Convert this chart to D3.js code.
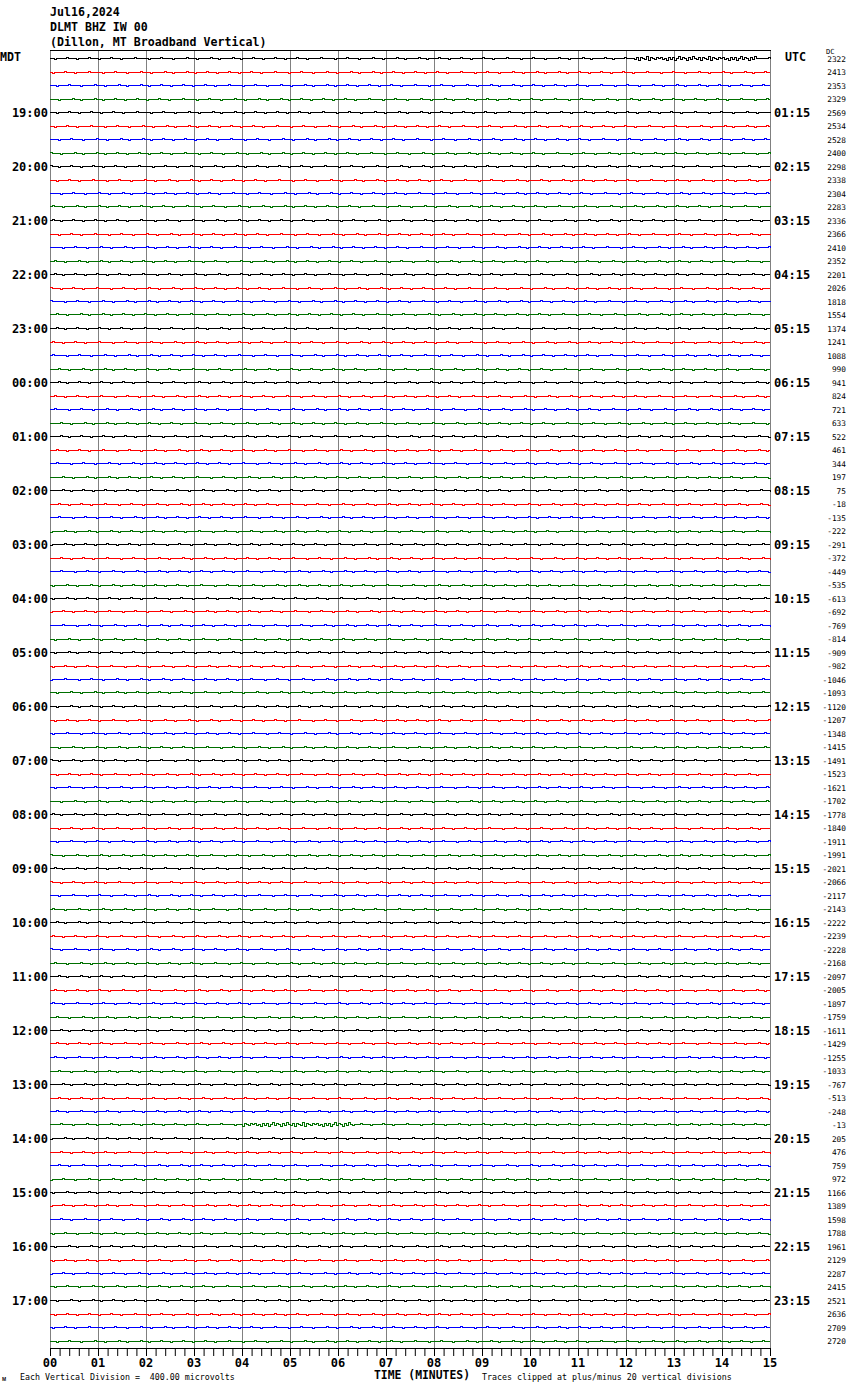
<!DOCTYPE html>
<html><head><meta charset="utf-8">
<script src="https://cdn.jsdelivr.net/npm/d3@7"></script>
<style>
html,body{margin:0;padding:0;background:#fff;}
svg{display:block;}
text{font-family:"DejaVu Sans Mono","Liberation Mono",monospace;white-space:pre;}
</style></head>
<body>
<svg id="chart" width="850" height="1390"></svg>
<script>
// ---------- data ----------
const headerLines = ["Jul16,2024", "DLMT BHZ IW 00", "(Dillon, MT Broadband Vertical)"];
const leftHours = ["19:00","20:00","21:00","22:00","23:00","00:00","01:00","02:00","03:00","04:00","05:00","06:00",
  "07:00","08:00","09:00","10:00","11:00","12:00","13:00","14:00","15:00","16:00","17:00"];
const rightHours = ["01:15","02:15","03:15","04:15","05:15","06:15","07:15","08:15","09:15","10:15","11:15","12:15",
  "13:15","14:15","15:15","16:15","17:15","18:15","19:15","20:15","21:15","22:15","23:15"];
const dcOffsets = [2322,2413,2353,2329,2569,2534,2528,2400,2298,2338,2304,2283,2336,2366,2410,2352,
  2201,2026,1818,1554,1374,1241,1088,990,941,824,721,633,522,461,344,197,
  75,-18,-135,-222,-291,-372,-449,-535,-613,-692,-769,-814,-909,-982,-1046,-1093,
  -1120,-1207,-1348,-1415,-1491,-1523,-1621,-1702,-1778,-1840,-1911,-1991,-2021,-2066,-2117,-2143,
  -2222,-2239,-2228,-2168,-2097,-2005,-1897,-1759,-1611,-1429,-1255,-1033,-767,-513,-248,-13,
  205,476,759,972,1166,1389,1598,1788,1961,2129,2287,2415,2521,2636,2709,2720];
const traceColors = ["#000000","#ff0000","#0000ff","#007000"];
const minuteTicks = ["00","01","02","03","04","05","06","07","08","09","10","11","12","13","14","15"];
// hand-typed background wiggle (pixels), reused along each trace: mostly flat, sparse 1px spikes
const wiggle = [0,0,1,0,0,0,0,0,-1,0,0,0,0,1,0,0,0,0,0,-1,0,0,0,0,1,0,0,0,0,0,
  -1,0,0,0,0,1,0,0,0,0,0,0,-1,0,0,0,0,0,0,1,0,0,0,0,0,-1,0,0,0,0,
  0,1,0,0,0,0,0,0,-1,0,0,0,0,1,0,0,0,0,0,0,-1,0,0,0,1,0,0,0,0,0,0,-1,0];
// hand-typed denser noise used inside bursts
const burstNoise = [1,-1,2,0,-2,1,-1,0,2,-1,1,-2,0,1,-1,2,-1,0,1,-2,2,-1,0,1,-1,0,-1,1,0,2,-1];
// bursts of higher activity: [trace index, start minute, end minute]
const bursts = [[79, 4.0, 6.3],[0, 12.1, 14.7]];
const bottomLeftNote = "Each Vertical Division =  400.00 microvolts";
const bottomRightNote = "Traces clipped at plus/minus 20 vertical divisions";
const axisTitle = "TIME (MINUTES)";

// ---------- layout ----------
const svg = d3.select("#chart");
const x = d3.scaleLinear().domain([0,15]).range([50,770]);
const y = d3.scaleLinear().domain([0,96]).range([58, 58+96*13.5]);
const plotTop = 50, plotBottom = 1348;

// header
svg.selectAll("text.hdr").data(headerLines).join("text")
  .attr("x",50).attr("y",(d,i)=>16+i*15)
  .attr("font-size","11.6px").attr("font-weight","bold").text(d=>d);

// vertical minute grid
svg.append("g").selectAll("line").data(d3.range(0,16)).join("line")
  .attr("x1",d=>Math.round(x(d))+0.5).attr("x2",d=>Math.round(x(d))+0.5)
  .attr("y1",plotTop).attr("y2",plotBottom)
  .attr("stroke","#808080").attr("stroke-width",1);
// top border
svg.append("line").attr("x1",50).attr("x2",771).attr("y1",50.5).attr("y2",50.5)
  .attr("stroke","#000").attr("stroke-width",1);

// traces
const step = 2;
const nPts = Math.round((x.range()[1]-x.range()[0])/step);
const traceG = svg.append("g").attr("shape-rendering","crispEdges");
const line = d3.line().x(d=>d[0]).y(d=>d[1]).curve(d3.curveStepAfter);
dcOffsets.forEach((dc,i)=>{
  const pts = [];
  for(let j=0;j<=nPts;j++){
    const m = x.invert(x.range()[0]+j*step);
    let v = wiggle[(j + i*23) % wiggle.length];
    bursts.forEach(b=>{ if(b[0]===i && m>=b[1] && m<=b[2]) v = burstNoise[(j + i) % burstNoise.length]; });
    pts.push([x(m), Math.round(y(i))+0.5 + v]);
  }
  traceG.append("path").attr("d",line(pts)).attr("fill","none")
    .attr("stroke",traceColors[i%4]).attr("stroke-width",1);
});

// left hour labels (every 4 traces, starting trace 4)
svg.append("text").attr("x",0).attr("y",61).attr("font-size","11.6px").attr("font-weight","bold").text("MDT");
svg.selectAll("text.lh").data(leftHours).join("text")
  .attr("x",48).attr("y",(d,i)=>y((i+1)*4)+4.5).attr("text-anchor","end")
  .attr("font-size","12px").attr("font-weight","bold").text(d=>d);
svg.append("text").attr("x",785).attr("y",61).attr("font-size","11.6px").attr("font-weight","bold").text("UTC");
svg.selectAll("text.rh").data(rightHours).join("text")
  .attr("x",774).attr("y",(d,i)=>y((i+1)*4)+4.5)
  .attr("font-size","12px").attr("font-weight","bold").text(d=>d);
// DC offsets column
svg.append("text").attr("x",826).attr("y",54).attr("font-size","7px").text("DC");
svg.selectAll("text.dc").data(dcOffsets).join("text")
  .attr("x",846).attr("y",(d,i)=>y(i)+3.5).attr("text-anchor","end")
  .attr("font-size","7.8px").text(d=>d);

// bottom axis
const axis = d3.axisBottom(x).tickValues(d3.range(0,75.5).map(k=>k/5))
  .tickSize(8).tickFormat("");
const axG = svg.append("g").attr("transform",`translate(0,${plotBottom})`).call(axis);
axG.select(".domain").attr("stroke","#000").attr("d",`M50,0.5H770`);
axG.selectAll(".tick line").attr("stroke","#000");
svg.selectAll("text.mt").data(minuteTicks).join("text")
  .attr("x",(d,i)=>x(i)).attr("y",1367).attr("text-anchor","middle")
  .attr("font-size","12px").attr("font-weight","bold").text(d=>d);

svg.append("text").attr("x",20).attr("y",1380).attr("font-size","8.3px").attr("xml:space","preserve").text(bottomLeftNote);
svg.append("text").attr("x",374).attr("y",1379).attr("font-size","11.4px").attr("font-weight","bold").text(axisTitle);
svg.append("text").attr("x",482).attr("y",1380).attr("font-size","8.3px").text(bottomRightNote);
svg.append("text").attr("x",2).attr("y",1381).attr("font-size","7px").text("ᴍ");
</script>
</body></html>
